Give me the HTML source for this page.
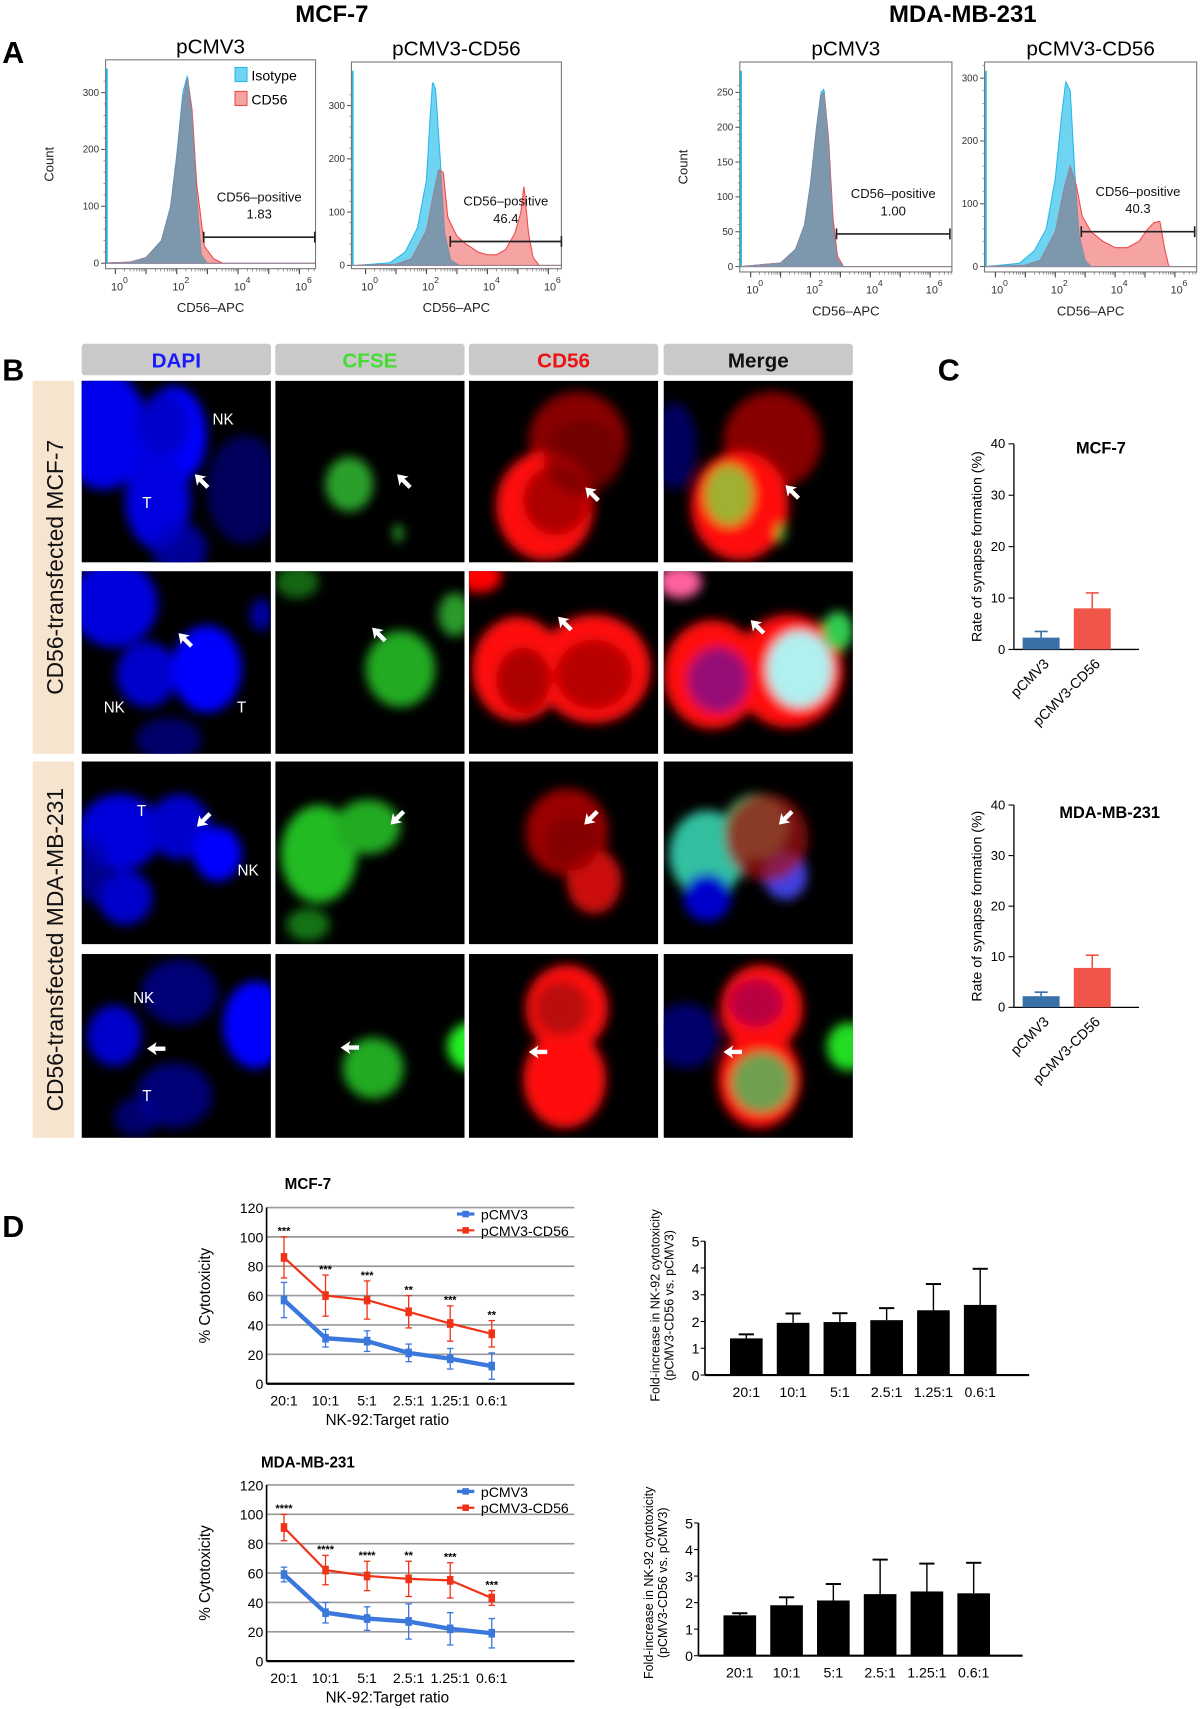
<!DOCTYPE html>
<html><head><meta charset="utf-8"><style>
html,body{margin:0;padding:0;background:#fff;}
svg{display:block;}
text{font-family:"Liberation Sans",sans-serif;}
.n{font-family:"Liberation Sans Narrow","Liberation Sans",sans-serif;}
</style></head><body>
<svg id="fig" width="1200" height="1709" viewBox="0 0 1103 1571" xmlns="http://www.w3.org/2000/svg">
<defs>
<filter id="b6" x="-50%" y="-50%" width="200%" height="200%"><feGaussianBlur stdDeviation="5"/></filter>
</defs>
<text x="305" y="20" font-size="22" font-weight="bold" text-anchor="middle">MCF-7</text>
<text x="885" y="20" font-size="22" font-weight="bold" text-anchor="middle">MDA-MB-231</text>
<text x="2" y="58" font-size="28" font-weight="bold">A</text>
<text x="2" y="350" font-size="28" font-weight="bold">B</text>
<text x="862" y="350" font-size="28" font-weight="bold">C</text>
<text x="2" y="1137" font-size="28" font-weight="bold">D</text>
<g id="gA"></g>
<g id="gB"></g>
<g id="gC"></g>
<g id="gD"></g>
</svg>
<script>
const NS="http://www.w3.org/2000/svg";
function mk(p,tag,at,txt){const e=document.createElementNS(NS,tag);for(const k in at)e.setAttribute(k,at[k]);if(txt!==undefined)e.textContent=txt;p.appendChild(e);return e;}

/* ===== Panel A data ===== */
const h1IsoLog=[-0.5,0.5,1,1.5,1.8,2,2.2,2.35,2.5,2.65,2.8,3];
const h1IsoCnt=[0,2,10,40,100,190,300,330,260,120,15,0];
const h1CdLog=[-0.5,0.5,1,1.5,1.8,2,2.2,2.35,2.5,2.65,2.9,3.2,3.5];
const h1CdCnt=[0,2,10,38,95,180,285,325,270,140,30,8,0];
const h2IsoLog=[-0.3,0.8,1.3,1.7,2,2.1,2.2,2.3,2.45,2.6,2.8,3.1];
const h2IsoCnt=[0,5,25,70,160,260,345,330,200,60,10,0];
const h2CdLog=[-0.3,1,1.5,2,2.2,2.4,2.55,2.7,3,3.3,3.7,4,4.3,4.6,4.9,5.1,5.2,5.35,5.5,5.7];
const h2CdCnt=[0,2,12,65,125,180,175,90,55,40,25,20,20,30,60,100,150,60,15,0];
const h3IsoLog=[-0.3,1,1.5,1.8,2,2.2,2.35,2.45,2.6,2.75,2.9,3.1];
const h3IsoCnt=[0,5,25,60,120,200,250,255,180,60,10,0];
const h3CdCnt=[0,5,24,58,115,195,245,250,185,70,15,0];
const h4IsoLog=[-0.3,0.8,1.3,1.7,2,2.2,2.35,2.5,2.65,2.8,3,3.2];
const h4IsoCnt=[0,5,25,60,140,235,295,280,150,50,10,0];
const h4CdLog=[-0.3,1,1.5,2,2.3,2.5,2.7,2.9,3.2,3.6,4,4.4,4.8,5.1,5.3,5.5,5.65,5.8];
const h4CdCnt=[0,2,10,55,125,160,130,80,55,40,30,30,40,60,70,72,30,0];
const gatePct=["1.83","46.4","1.00","40.3"];

function interp(L,C,x){if(x<=L[0]||x>=L[L.length-1])return 0;for(let i=1;i<L.length;i++){if(x<=L[i]){const t=(x-L[i-1])/(L[i]-L[i-1]);return C[i-1]+t*(C[i]-C[i-1]);}}return 0;}
function hist(o){
  const g=mk(document.getElementById('gA'),'g',{});
  
  
  const X=l=>o.x0+l*o.dec, Y=c=>o.y0-c*o.ys;
  const t=mk(g,'text',{x:(o.l+o.r)/2,y:o.t-6,'font-size':19,'text-anchor':'middle'},o.title);
  
  
  const lmin=(o.l-o.x0)/o.dec,lmax=(o.r-o.x0)/o.dec;
  function path(f){let d=`M${o.l},${o.y0}`;for(let l=lmin;l<=lmax;l+=0.02){d+=`L${X(l).toFixed(1)},${Y(f(l)).toFixed(1)}`;}return d+`L${o.r},${o.y0}Z`;}
  const fi=l=>interp(o.iL,o.iC,l), fc=l=>interp(o.cL,o.cC,l);
  const pi=mk(g,'path',{d:path(fi),fill:'#6fd3f2',stroke:'#2ab8ea','stroke-width':1});
  
  
  const pc=mk(g,'path',{d:path(fc),fill:'#f6a3a3',stroke:'#ee4a4a','stroke-width':1});
  
  
  const po=mk(g,'path',{d:path(l=>Math.min(fi(l),fc(l))),fill:'#7d98ad',stroke:'#8a8aa0','stroke-width':0.8});
  
  
  mk(g,'line',{x1:o.l+1,x2:o.l+1,y1:o.t+8,y2:o.y0,stroke:'#2ab8ea','stroke-width':2});
  const box=mk(g,'rect',{x:o.l,y:o.t,width:o.r-o.l,height:o.b-o.t,fill:'none',stroke:'#777','stroke-width':1});
  
  
  o.yt.forEach(v=>{mk(g,'line',{x1:o.l-4,x2:o.l,y1:Y(v),y2:Y(v),stroke:'#555'});
    const tl=mk(g,'text',{x:o.l-6,y:Y(v)+3,'font-size':9,'text-anchor':'end',fill:'#333'},v);
    
    });
  for(let v=0;v<=o.yt[o.yt.length-1]+o.ytm;v+=o.ytm){mk(g,'line',{x1:o.l-2,x2:o.l,y1:Y(v),y2:Y(v),stroke:'#777','stroke-width':0.6});}
  for(let d=0;d<=6;d++){const xx=X(d);mk(g,'line',{x1:xx,x2:xx,y1:o.b,y2:o.b+5,stroke:'#444'});
    for(let m=2;m<10&&d<7;m++){const xm=X(d+Math.log10(m));if(xm<o.r)mk(g,'line',{x1:xm,x2:xm,y1:o.b,y2:o.b+2.5,stroke:'#666','stroke-width':0.6});}
    if(d%2===0){const tl=mk(g,'text',{x:xx-4,y:o.b+20,'font-size':10,fill:'#333'},'10');
      
      
      mk(g,'text',{x:xx+7,y:o.b+13,'font-size':8,fill:'#333'},d);}}
  const xl=mk(g,'text',{x:(o.l+o.r)/2,y:o.b+40,'font-size':12,'text-anchor':'middle',fill:'#222'},'CD56–APC');
  
  
  if(o.count){const yl=mk(g,'text',{transform:`translate(${o.l-48},${(o.t+o.b)/2}) rotate(-90)`,'font-size':12,'text-anchor':'middle',fill:'#222'},'Count');
    
    }
  const gx1=X(o.gate[0]),gx2=X(o.gate[1]);
  mk(g,'line',{x1:gx1,x2:gx2,y1:o.gy,y2:o.gy,stroke:'#222','stroke-width':1.5});
  mk(g,'line',{x1:gx1,x2:gx1,y1:o.gy-5,y2:o.gy+5,stroke:'#222','stroke-width':1.5});
  mk(g,'line',{x1:gx2,x2:gx2,y1:o.gy-5,y2:o.gy+5,stroke:'#222','stroke-width':1.5});
  const gl=mk(g,'text',{x:(gx1+gx2)/2,y:o.gy-33,'font-size':12,'text-anchor':'middle',fill:'#111'},'CD56–positive');
  
  
  const gv=mk(g,'text',{x:(gx1+gx2)/2,y:o.gy-17,'font-size':12,'text-anchor':'middle',fill:'#111'},o.pct);
  
  
  return g;
}
hist({name:'histogram-mcf7-pcmv3',title:'pCMV3',l:97,r:290,t:55,b:247,y0:242,ys:0.523,x0:106,dec:28.2,yt:[0,100,200,300],ytm:20,iL:h1IsoLog,iC:h1IsoCnt,cL:h1CdLog,cC:h1CdCnt,gate:[2.88,6.5],gy:218,pct:gatePct[0],count:true});
hist({name:'histogram-mcf7-cd56',title:'pCMV3-CD56',l:323,r:516,t:57,b:247,y0:244,ys:0.49,x0:336,dec:28,yt:[0,100,200,300],ytm:20,iL:h2IsoLog,iC:h2IsoCnt,cL:h2CdLog,cC:h2CdCnt,gate:[2.78,6.43],gy:222,pct:gatePct[1]});
hist({name:'histogram-mda-pcmv3',title:'pCMV3',l:680,r:875,t:57,b:250,y0:245,ys:0.64,x0:690,dec:27.5,yt:[0,50,100,150,200,250],ytm:10,iL:h3IsoLog,iC:h3IsoCnt,cL:h3IsoLog,cC:h3CdCnt,gate:[2.87,6.66],gy:215,pct:gatePct[2],count:true});
hist({name:'histogram-mda-cd56',title:'pCMV3-CD56',l:905,r:1100,t:57,b:250,y0:245,ys:0.577,x0:915,dec:27.5,yt:[0,100,200,300],ytm:20,iL:h4IsoLog,iC:h4IsoCnt,cL:h4CdLog,cC:h4CdCnt,gate:[2.87,6.66],gy:213,pct:gatePct[3]});
{const gA=document.getElementById('gA');
const lg=mk(gA,'g',{});
mk(lg,'rect',{x:216,y:62,width:11,height:13,fill:'#6fd3f2',stroke:'#2ab8ea'});
mk(lg,'text',{x:231,y:74,'font-size':13},'Isotype');
mk(lg,'rect',{x:216,y:84,width:11,height:13,fill:'#f6a3a3',stroke:'#ee4a4a'});
mk(lg,'text',{x:231,y:96,'font-size':13},'CD56');}

/* ===== Panel B: microscopy ===== */
const gB=document.getElementById('gB');
const colX=[75,253,431,610], rowY=[350,525,700,877], rowH=[167,168,168,169], cw=174;
const heads=[['DAPI','#1a1aff'],['CFSE','#44dd33'],['CD56','#ee1111'],['Merge','#111']];
heads.forEach((h,i)=>{const r=mk(gB,'rect',{x:colX[i],y:316,width:cw,height:29,rx:3,fill:'#c9c9c9'});
 
 
 mk(gB,'text',{x:colX[i]+cw/2,y:338,'font-size':19,'font-weight':'bold','text-anchor':'middle',fill:h[1]},h[0]);});
[[350,693,'CD56-transfected MCF-7'],[700,1046,'CD56-transfected MDA-MB-231']].forEach((s,i)=>{
 const r=mk(gB,'rect',{x:30,y:s[0],width:38,height:s[1]-s[0],fill:'#f7e4cf'});
 
 
 mk(gB,'text',{transform:`translate(58,${(s[0]+s[1])/2}) rotate(-90)`,'font-size':21,'text-anchor':'middle',fill:'#111'},s[2]);});
const blobs=[
 [[0,20,45,40,55,'#0000ee',1],[0,85,50,30,45,'#0000ff',1],[0,75,40,25,30,'#0000aa',.6],[0,70,110,30,45,'#0000e0',1],[0,90,155,25,25,'#0000bb',.8],[0,150,100,35,50,'#00009a',.6],
  [1,68,95,22,25,'#2aa02a',1],[1,113,140,4,8,'#33bb33',1],
  [2,100,55,45,45,'#aa0000',.8],[2,70,115,45,50,'#ff1010',1],[2,80,110,30,32,'#8a0000',.7],[2,105,70,36,35,'#660000',.6],
  [3,100,55,45,45,'#aa0000',.8],[3,70,115,45,50,'#ff1010',1],[3,60,105,22,28,'#a0b030',1],[3,10,60,20,40,'#000088',.7],[3,108,140,4,8,'#33bb33',1]],
 [[0,30,30,40,40,'#0000dd',1],[0,60,95,28,30,'#0000cc',1],[0,115,90,32,40,'#0000ff',1],[0,165,40,10,15,'#0000cc',.8],[0,80,155,30,20,'#000099',.7],
  [1,115,90,32,35,'#22aa22',1],[1,20,10,20,15,'#1a801a',.8],[1,165,40,15,20,'#2a9a2a',1],
  [2,45,90,42,48,'#ff1010',1],[2,115,90,52,50,'#ff1010',1],[2,50,100,25,30,'#770000',.6],[2,115,95,35,32,'#880000',.6],[2,10,5,20,15,'#ff0000',1],
  [3,45,95,45,50,'#ff1010',1],[3,115,92,50,52,'#ff1010',1],[3,125,90,30,35,'#b0f0f0',1],[3,50,100,28,30,'#6a10a0',.7],[3,15,10,20,15,'#ff60a0',1],[3,160,55,14,18,'#30cc50',1]],
 [[0,35,65,38,35,'#0000dd',1],[0,90,60,28,30,'#0000cc',1],[0,125,85,22,25,'#0000ff',1],[0,40,125,25,25,'#0000cc',1],[0,10,100,15,30,'#0000aa',.8],
  [1,40,85,35,45,'#22bb22',1],[1,85,60,30,25,'#22aa22',1],[1,30,150,20,15,'#1a901a',.8],
  [2,90,65,38,40,'#aa0000',.9],[2,115,110,25,30,'#cc1010',1],[2,95,75,25,25,'#770000',.6],
  [3,40,85,35,40,'#30c0a0',1],[3,85,60,30,30,'#40a060',1],[3,112,105,20,22,'#4040e0',1],[3,95,70,38,40,'#aa1010',.7],[3,40,125,22,22,'#0000cc',1]],
 [[0,30,75,25,28,'#0000cc',1],[0,90,35,35,30,'#0000aa',.7],[0,85,130,35,30,'#0000aa',.7],[0,160,65,30,40,'#0000ff',1],[0,50,150,20,18,'#000099',.7],
  [1,90,105,28,28,'#22aa22',1],[1,180,85,22,22,'#22ee22',1],
  [2,90,50,38,40,'#ff1010',1],[2,88,115,38,45,'#ff1010',1],[2,85,50,25,25,'#770000',.5],
  [3,90,50,38,40,'#ff1010',1],[3,88,115,38,45,'#ff1010',1],[3,90,118,28,28,'#70a050',1],[3,85,45,25,22,'#8a0060',.6],[3,20,75,30,30,'#000088',.8],[3,170,85,20,22,'#22dd22',1]]];
const labels=[[[0,130,40,'NK'],[0,60,117,'T']],[[0,30,130,'NK'],[0,147,130,'T']],[[0,55,50,'T'],[0,153,105,'NK']],[[0,57,45,'NK'],[0,60,135,'T']]];
const arrows=[[[0,104,86],[1,112,86],[2,107,98],[3,112,96]],[[0,89,57],[1,89,52],[2,82,42],[3,80,45]],[[0,106,60],[1,106,58],[2,106,58],[3,106,58]],[[0,60,87],[1,60,86],[2,55,90],[3,55,90]]];
const arrowAng=[225,225,135,180];
let cid=0;
const defs=document.querySelector('defs');
rowY.forEach((y,r)=>{colX.forEach((x,c)=>{
 cid++;
 const cp=mk(defs,'clipPath',{id:'cc'+cid});
 mk(cp,'rect',{x:x,y:y,width:cw,height:rowH[r]});
 const cell=mk(gB,'g',{'clip-path':`url(#cc${cid})`});
 
 
 mk(cell,'rect',{x:x,y:y,width:cw,height:rowH[r],fill:'#000'});
 const bg=mk(cell,'g',{filter:'url(#b6)'});
 blobs[r].filter(b=>b[0]===c).forEach(b=>mk(bg,'ellipse',{cx:x+b[1],cy:y+b[2],rx:b[3],ry:b[4],fill:b[5],opacity:b[6]}));
 labels[r].filter(l=>l[0]===c).forEach(l=>mk(cell,'text',{x:x+l[1],y:y+l[2],'font-size':14,fill:'#fff','text-anchor':'middle'},l[3]));
 arrows[r].filter(a=>a[0]===c).forEach(a=>{const ax=x+a[1],ay=y+a[2];
  const ar=mk(cell,'path',{d:'M0,0 L-9,-6 L-7.5,-2 L-17,-2 L-17,2 L-7.5,2 L-9,6 Z',fill:'#fff',transform:`translate(${ax},${ay}) rotate(${arrowAng[r]})`});
  
  });
});});

/* ===== Panel C ===== */
const cCats=['pCMV3','pCMV3-CD56'];
const cMcf=[2.3,8.0], cMcfErr=[1.2,3.0];
const cMda=[2.2,7.8], cMdaErr=[0.8,2.5];
const cTicks=[0,10,20,30,40];
function synapse(o){
 const g=mk(document.getElementById('gC'),'g',{});
 
 
 const Y=v=>o.y0-(o.y0-o.y40)*v/40;
 const tt=mk(g,'text',{x:o.tx,y:o.ty,'font-size':15,'font-weight':'bold','text-anchor':'middle'},o.title);
 
 
 mk(g,'line',{x1:o.l,x2:o.l,y1:o.y40,y2:o.y0,stroke:'#000','stroke-width':1.2});
 mk(g,'line',{x1:o.l,x2:o.l+115,y1:o.y0,y2:o.y0,stroke:'#000','stroke-width':1.2});
 cTicks.forEach(v=>{mk(g,'line',{x1:o.l-5,x2:o.l,y1:Y(v),y2:Y(v),stroke:'#000'});
  const t=mk(g,'text',{x:o.l-8,y:Y(v)+4,'font-size':12,'text-anchor':'end'},v);
  
  });
 const yl=mk(g,'text',{transform:`translate(${o.l-30},${(o.y0+o.y40)/2}) rotate(-90)`,'font-size':13,'text-anchor':'middle'},'Rate of synapse formation (%)');
 
 
 const cols=['#3a70a8','#f0554a'];
 cCats.forEach((c,i)=>{const cx=o.l+25+i*47;
  const b=mk(g,'rect',{x:cx-17,y:Y(o.vals[i]),width:34,height:o.y0-Y(o.vals[i]),fill:cols[i]});
  
  
  const ye=Y(o.vals[i]+o.err[i]);
  mk(g,'line',{x1:cx,x2:cx,y1:ye,y2:Y(o.vals[i]),stroke:cols[i],'stroke-width':1.5});
  mk(g,'line',{x1:cx-6,x2:cx+6,y1:ye,y2:ye,stroke:cols[i],'stroke-width':1.5});
  const xl=mk(g,'text',{transform:`translate(${cx+8},${o.y0+14}) rotate(-45)`,'font-size':13,'text-anchor':'end'},c);
  
  });
}
synapse({name:'synapse-chart-mcf7',title:'MCF-7',tx:1012,ty:417,l:932,y0:597,y40:408,vals:cMcf,err:cMcfErr});
synapse({name:'synapse-chart-mda',title:'MDA-MB-231',tx:1020,ty:752,l:932,y0:926,y40:740,vals:cMda,err:cMdaErr});

/* ===== Panel D ===== */
const dCats=['20:1','10:1','5:1','2.5:1','1.25:1','0.6:1'];
const dYTicks=[0,20,40,60,80,100,120];
const mcfBlue=[57,31,29,21,17,12], mcfBlueErr=[12,6,7,6,7,9];
const mcfRed=[86,60,57,49,41,34], mcfRedErr=[14,14,13,11,12,9];
const mcfStars=['***','***','***','**','***','**'];
const mdaBlue=[59,33,29,27,22,19], mdaBlueErr=[5,7,8,12,11,10];
const mdaRed=[91,62,58,56,55,43], mdaRedErr=[9,10,10,12,12,5];
const mdaStars=['****','****','****','**','***','***'];
const foldTicks=[0,1,2,3,4,5];
const mcfFold=[1.37,1.95,1.98,2.05,2.42,2.62], mcfFoldErr=[0.15,0.35,0.33,0.45,0.98,1.35];
const mdaFold=[1.52,1.9,2.08,2.32,2.42,2.35], mdaFoldErr=[0.08,0.3,0.62,1.3,1.05,1.15];
const gD=document.getElementById('gD');
function lineChart(o){
 const g=mk(gD,'g',{class:'n'});
 
 
 const Y=v=>o.y0-(o.y0-o.y120)*v/120, X=i=>o.x0+i*38.2;
 const tt=mk(g,'text',{x:o.tx,y:o.ty,'font-size':14,'font-weight':'bold','text-anchor':'middle',class:'n'},o.title);
 
 
 dYTicks.forEach(v=>{mk(g,'line',{x1:o.l,x2:o.r,y1:Y(v),y2:Y(v),stroke:v===0?'#000':'#999','stroke-width':v===0?2:1.5});
  const t=mk(g,'text',{x:o.l-3,y:Y(v)+5,'font-size':13,'text-anchor':'end',class:'n'},v);
  
  });
 mk(g,'line',{x1:o.l,x2:o.l,y1:Y(120),y2:o.y0,stroke:'#000','stroke-width':1.5});
 const yl=mk(g,'text',{transform:`translate(${o.l-52},${(o.y0+o.y120)/2}) rotate(-90)`,'font-size':14,'text-anchor':'middle'},'% Cytotoxicity');
 
 
 dCats.forEach((c,i)=>{const t=mk(g,'text',{x:X(i),y:o.y0+20,'font-size':13,'text-anchor':'middle',class:'n'},c);
  
  });
 const xl=mk(g,'text',{x:o.x0+95,y:o.y0+38,'font-size':14,'text-anchor':'middle',class:'n'},'NK-92:Target ratio');
 
 
 [[o.blue,o.blueErr,'#3b78dc',4,'series-pcmv3'],[o.red,o.redErr,'#f03218',2,'series-pcmv3-cd56']].forEach(s=>{
  const sg=mk(g,'g',{});
  
  
  s[0].forEach((v,i)=>{const x=X(i);mk(sg,'line',{x1:x,x2:x,y1:Y(v-s[1][i]),y2:Y(v+s[1][i]),stroke:s[2],'stroke-width':1.2});
   [v-s[1][i],v+s[1][i]].forEach(e=>mk(sg,'line',{x1:x-3,x2:x+3,y1:Y(e),y2:Y(e),stroke:s[2],'stroke-width':1.2}));});
  const ln=mk(sg,'polyline',{points:s[0].map((v,i)=>`${X(i)},${Y(v)}`).join(' '),fill:'none',stroke:s[2],'stroke-width':s[3]});
  
  
  s[0].forEach((v,i)=>{const m=mk(sg,'rect',{x:X(i)-3,y:Y(v)-4,width:6,height:8,fill:s[2]});
   
   });
 });
 o.stars.forEach((s,i)=>{const t=mk(g,'text',{x:X(i),y:Y(o.red[i]+o.redErr[i])-2,'font-size':10,'text-anchor':'middle','font-weight':'bold'},s);
  
  });
 const lg=mk(g,'g',{});
 
 
 mk(lg,'line',{x1:o.lx,x2:o.lx+16,y1:o.ly,y2:o.ly,stroke:'#3b78dc','stroke-width':3});
 mk(lg,'rect',{x:o.lx+5,y:o.ly-3,width:6,height:6,fill:'#3b78dc'});
 mk(lg,'text',{x:o.lx+22,y:o.ly+5,'font-size':13,class:'n'},'pCMV3');
 mk(lg,'line',{x1:o.lx,x2:o.lx+16,y1:o.ly+15,y2:o.ly+15,stroke:'#f03218','stroke-width':2});
 mk(lg,'rect',{x:o.lx+5,y:o.ly+12,width:6,height:6,fill:'#f03218'});
 mk(lg,'text',{x:o.lx+22,y:o.ly+20,'font-size':13,class:'n'},'pCMV3-CD56');
}
lineChart({name:'cytotoxicity-chart-mcf7',title:'MCF-7',tx:283,ty:1093,l:245,r:528,x0:261,y0:1272,y120:1110,blue:mcfBlue,blueErr:mcfBlueErr,red:mcfRed,redErr:mcfRedErr,stars:mcfStars,lx:420,ly:1116});
lineChart({name:'cytotoxicity-chart-mda',title:'MDA-MB-231',tx:283,ty:1349,l:245,r:528,x0:261,y0:1527,y120:1365,blue:mdaBlue,blueErr:mdaBlueErr,red:mdaRed,redErr:mdaRedErr,stars:mdaStars,lx:420,ly:1371});
function foldChart(o){
 const g=mk(gD,'g',{});
 
 
 const Y=v=>o.y0-(o.y0-o.y5)*v/5, X=i=>o.l+38+i*43;
 mk(g,'line',{x1:o.l,x2:o.l,y1:o.y5,y2:o.y0,stroke:'#000','stroke-width':1.5});
 mk(g,'line',{x1:o.l,x2:o.r,y1:o.y0,y2:o.y0,stroke:'#000','stroke-width':2});
 foldTicks.forEach(v=>{mk(g,'line',{x1:o.l-4,x2:o.l,y1:Y(v),y2:Y(v),stroke:'#000'});
  const t=mk(g,'text',{x:o.l-5,y:Y(v)+5,'font-size':13,'text-anchor':'end',class:'n'},v);
  
  });
 dCats.forEach((c,i)=>{const x=X(i),v=o.vals[i],e=v+o.err[i];
  const b=mk(g,'rect',{x:x-15,y:Y(v),width:30,height:o.y0-Y(v),fill:'#000'});
  
  
  mk(g,'line',{x1:x,x2:x,y1:Y(e),y2:Y(v),stroke:'#000','stroke-width':1.3});
  mk(g,'line',{x1:x-7,x2:x+7,y1:Y(e),y2:Y(e),stroke:'#000','stroke-width':1.8});
  const t=mk(g,'text',{x:x,y:o.y0+20,'font-size':13,'text-anchor':'middle',class:'n'},c);
  
  });
 const yl=mk(g,'text',{transform:`translate(${o.l-42},${o.yc}) rotate(-90)`,'font-size':11.5,'text-anchor':'middle'},'Fold-increase in NK-92 cytotoxicity');
 
 
 mk(g,'text',{transform:`translate(${o.l-29},${o.yc}) rotate(-90)`,'font-size':11.5,'text-anchor':'middle'},'(pCMV3-CD56 vs. pCMV3)');
}
foldChart({name:'fold-chart-mcf7',l:648,r:946,y0:1264,y5:1141,vals:mcfFold,err:mcfFoldErr,yc:1200});
foldChart({name:'fold-chart-mda',l:642,r:940,y0:1522,y5:1400,vals:mdaFold,err:mdaFoldErr,yc:1455});
</script>
</body></html>
